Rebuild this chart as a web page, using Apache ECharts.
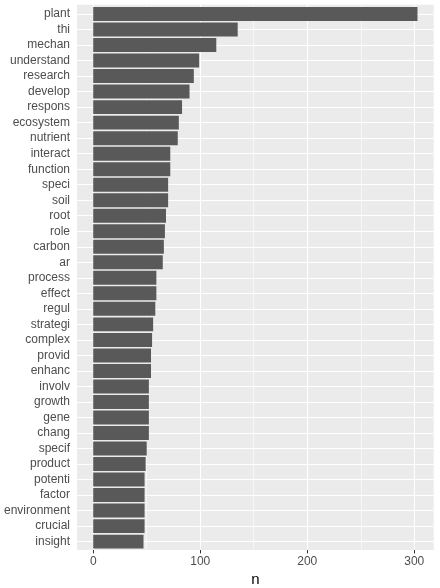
<!DOCTYPE html>
<html>
<head>
<meta charset="utf-8">
<script src="https://cdn.jsdelivr.net/npm/echarts@6/dist/echarts.min.js"></script>
<style>
html,body{margin:0;padding:0;background:#fff;}
#chart{width:440px;height:588px;}
</style>
</head>
<body>
<div id="chart"></div>
<script>
const words = ["plant","thi","mechan","understand","research","develop","respons","ecosystem","nutrient","interact","function","speci","soil","root","role","carbon","ar","process","effect","regul","strategi","complex","provid","enhanc","involv","growth","gene","chang","specif","product","potenti","factor","environment","crucial","insight"];
const counts = [303,135,115,99,94,90,83,80,79,72,72,70,70,68,67,66,65,59,59,58,56,55,54,54,52,52,52,52,50,49,48,48,48,48,47];
const xTicks = [0,100,200,300];
const xMinor = [50,150,250];
const xMin = -15.15, xMax = 318.15;

const FONT = "'Liberation Sans', Arial, sans-serif";
const chart = echarts.init(document.getElementById('chart'), null, {renderer:'canvas'});

const vLines = [];
xTicks.forEach(v => vLines.push({xAxis: v, lineStyle:{color:'#ffffff', width:1.1, type:'solid'}}));
xMinor.forEach(v => vLines.push({xAxis: v, lineStyle:{color:'#ffffff', width:0.55, type:'solid'}}));
const hLines = words.map(w => ({yAxis: w, lineStyle:{color:'#ffffff', width:1.1, type:'solid'}}));

const markBase = {
  silent: true,
  z: 1,
  symbol: ['none','none'],
  label: {show:false},
  emphasis: {disabled:true}
};

chart.setOption({
  animation: false,
  backgroundColor: '#ffffff',
  grid: [
    { left: 77, right: 6.3, top: 6.24, bottom: 38.6, show: false, containLabel: false, outerBoundsMode: 'none' },
    { left: 77, right: 6.3, top: 4.7, bottom: 38.1, show: true, backgroundColor: '#EBEBEB', borderWidth: 0, containLabel: false, outerBoundsMode: 'none' }
  ],
  xAxis: [
    {
      type: 'value',
      gridIndex: 0,
      min: xMin, max: xMax,
      name: 'n',
      nameLocation: 'middle',
      nameGap: 22,
      nameTextStyle: {color:'#000000', fontSize: 15, fontFamily: FONT},
      axisLine: {show:false},
      axisTick: {show:true, length:4, customValues: xTicks, lineStyle:{color:'#333333', width:1}},
      axisLabel: {show:true, customValues: xTicks, margin:6, color:'#4D4D4D', fontSize:12, fontFamily:FONT},
      splitLine: {show:false}
    },
    {
      type: 'value',
      gridIndex: 1,
      min: xMin, max: xMax,
      show: false
    }
  ],
  yAxis: [
    {
      type: 'category',
      gridIndex: 0,
      data: words,
      inverse: true,
      axisLine: {show:false},
      axisTick: {show:true, length:4, alignWithLabel:true, lineStyle:{color:'#333333', width:1}},
      axisLabel: {show:true, margin:7, color:'#4D4D4D', fontSize:12, fontFamily:FONT, interval:0},
      splitLine: {show:false}
    },
    {
      type: 'value',
      gridIndex: 1,
      min: 0, max: 1,
      show: false
    }
  ],
  series: [
    {
      type: 'line',
      xAxisIndex: 1, yAxisIndex: 1,
      data: [],
      z: 1,
      silent: true,
      markLine: Object.assign({}, markBase, {data: vLines})
    },
    {
      type: 'line',
      xAxisIndex: 0, yAxisIndex: 0,
      data: [],
      z: 1,
      silent: true,
      markLine: Object.assign({}, markBase, {data: hLines})
    },
    {
      type: 'bar',
      xAxisIndex: 0, yAxisIndex: 0,
      data: counts,
      z: 2,
      barCategoryGap: '10%',
      itemStyle: {color:'#595959'},
      silent: true
    }
  ]
});
</script>
</body>
</html>
